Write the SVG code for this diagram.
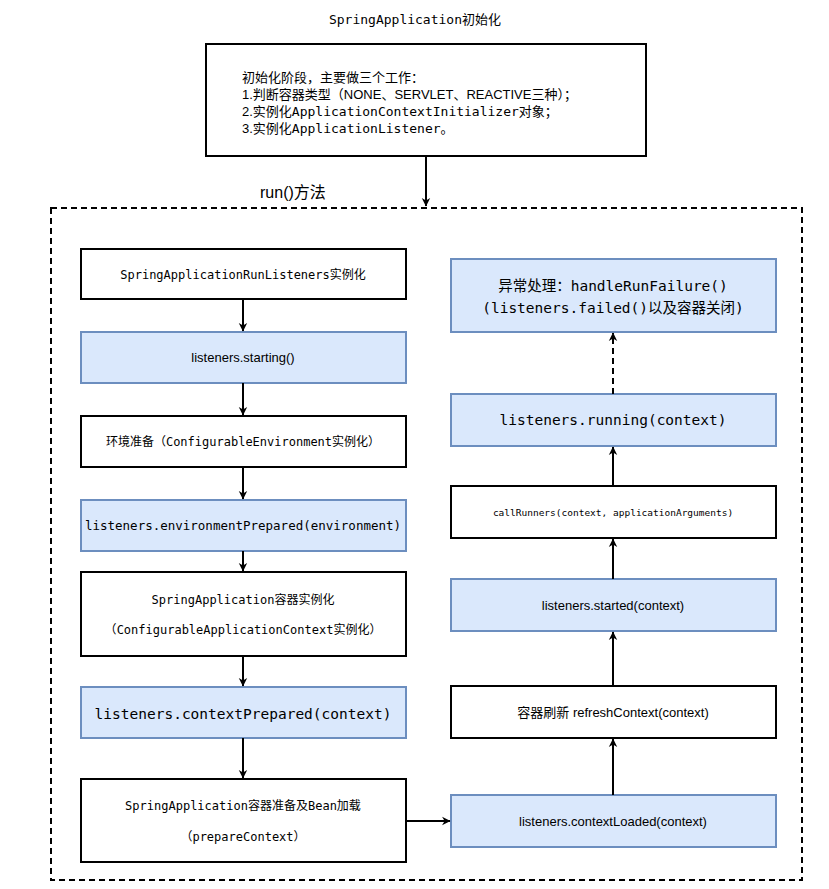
<svg xmlns="http://www.w3.org/2000/svg" width="829" height="889" viewBox="0 0 829 889">
<style>
.w{fill:#fff;stroke:#000;stroke-width:2}
.b{fill:#dae8fc;stroke:#6c8ebf;stroke-width:2}
.m{font-family:"DejaVu Sans Mono","Liberation Mono",monospace;fill:#000;text-anchor:middle}
.s{font-family:"Liberation Sans","Noto Sans CJK SC",sans-serif;fill:#000;text-anchor:middle}
.c{stroke:#000;stroke-width:2;fill:none;marker-end:url(#a)}
</style>
<defs><marker id="a" viewBox="0 0 10 10" refX="9" refY="5" markerWidth="6" markerHeight="6" orient="auto" markerUnits="userSpaceOnUse" style="overflow:visible"><path d="M0,0 L10,5 L0,10 L3,5 z" fill="#000" transform="scale(1.4) translate(-3,-1.4)"/></marker></defs>
<rect width="829" height="889" fill="#fff"/>
<text x="415" y="24" class="m" font-size="13">SpringApplication<tspan font-family="Noto Sans CJK SC">初始化</tspan></text>
<g id="init"><rect x="206" y="44" width="440" height="112" class="w"/>
<text x="242" y="82" font-family="Liberation Sans,Noto Sans CJK SC,sans-serif" font-size="13"><tspan x="242">初始化阶段，主要做三个工作：</tspan><tspan x="242" dy="17">1.判断容器类型（NONE、SERVLET、REACTIVE三种）；</tspan><tspan x="242" dy="17">2.实例化<tspan font-family="DejaVu Sans Mono,monospace">ApplicationContextInitializer</tspan>对象；</tspan><tspan x="242" dy="17">3.实例化<tspan font-family="DejaVu Sans Mono,monospace">ApplicationListener</tspan>。</tspan></text></g>
<g id="run"><rect x="51" y="208" width="751" height="672" fill="none" stroke="#000" stroke-width="2" stroke-dasharray="6,4"/>
<text x="260" y="198" font-family="Liberation Sans,Noto Sans CJK SC,sans-serif" font-size="16">run()方法</text></g>
<g id="n1"><rect x="81" y="249" width="325" height="50" class="w"/><text x="243" y="279" class="m" font-size="12">SpringApplicationRunListeners<tspan font-family="Noto Sans CJK SC">实例化</tspan></text></g>
<g id="n2"><rect x="81" y="332" width="325" height="51" class="b"/><text x="243" y="362" class="s" font-size="13">listeners.starting()</text></g>
<g id="n3"><rect x="81" y="416" width="325" height="51" class="w"/><text x="243" y="446" class="m" font-size="12"><tspan font-family="Noto Sans CJK SC">环境准备（</tspan>ConfigurableEnvironment<tspan font-family="Noto Sans CJK SC">实例化）</tspan></text></g>
<g id="n4"><rect x="81" y="500" width="325" height="51" class="b"/><text x="243" y="530" class="m" font-size="12.5">listeners.environmentPrepared(environment)</text></g>
<g id="n5"><rect x="81" y="572" width="325" height="84" class="w"/><text x="243" y="604" class="m" font-size="12">SpringApplication<tspan font-family="Noto Sans CJK SC">容器实例化</tspan></text><text x="243" y="634" class="m" font-size="12"><tspan font-family="Noto Sans CJK SC">（</tspan>ConfigurableApplicationContext<tspan font-family="Noto Sans CJK SC">实例化）</tspan></text></g>
<g id="n6"><rect x="81" y="687" width="325" height="51" class="b"/><text x="243" y="719" class="m" font-size="14.5">listeners.contextPrepared(context)</text></g>
<g id="n7"><rect x="81" y="779" width="325" height="83" class="w"/><text x="243" y="810" class="m" font-size="12">SpringApplication<tspan font-family="Noto Sans CJK SC">容器准备及</tspan>Bean<tspan font-family="Noto Sans CJK SC">加载</tspan></text><text x="243" y="841" class="m" font-size="12"><tspan font-family="Noto Sans CJK SC">（</tspan>prepareContext<tspan font-family="Noto Sans CJK SC">）</tspan></text></g>
<g id="r1"><rect x="451" y="259" width="325" height="73" class="b"/><text x="613" y="291" class="m" font-size="14.5"><tspan font-family="Noto Sans CJK SC">异常处理：</tspan>handleRunFailure()</text><text x="613" y="313" class="m" font-size="14.5">(listeners.failed()<tspan font-family="Noto Sans CJK SC">以及容器关闭</tspan>)</text></g>
<g id="r2"><rect x="451" y="394" width="325" height="52" class="b"/><text x="613" y="425" class="m" font-size="14.5">listeners.running(context)</text></g>
<g id="r3"><rect x="451" y="486" width="325" height="52" class="w"/><text x="613" y="516" class="m" font-size="9.5">callRunners(context, applicationArguments)</text></g>
<g id="r4"><rect x="451" y="579" width="325" height="52" class="b"/><text x="613" y="610" class="s" font-size="13">listeners.started(context)</text></g>
<g id="r5"><rect x="451" y="686" width="325" height="52" class="w"/><text x="613" y="717" class="s" font-size="13">容器刷新 refreshContext(context)</text></g>
<g id="r6"><rect x="451" y="795" width="325" height="52" class="b"/><text x="613" y="826" class="s" font-size="13">listeners.contextLoaded(context)</text></g>
<g id="connectors">
<path d="M426,156 V206" class="c"/>
<path d="M243,299 V331" class="c"/>
<path d="M243,383 V415" class="c"/>
<path d="M243,467 V499" class="c"/>
<path d="M243,551 V571" class="c"/>
<path d="M243,656 V686" class="c"/>
<path d="M243,738 V778" class="c"/>
<path d="M406,821 H450" class="c"/>
<path d="M613,795 V739" class="c"/>
<path d="M613,686 V632" class="c"/>
<path d="M613,579 V539" class="c"/>
<path d="M613,486 V447" class="c"/>
<path d="M613,394 V333" class="c" stroke-dasharray="6,4"/>
</g>
</svg>
